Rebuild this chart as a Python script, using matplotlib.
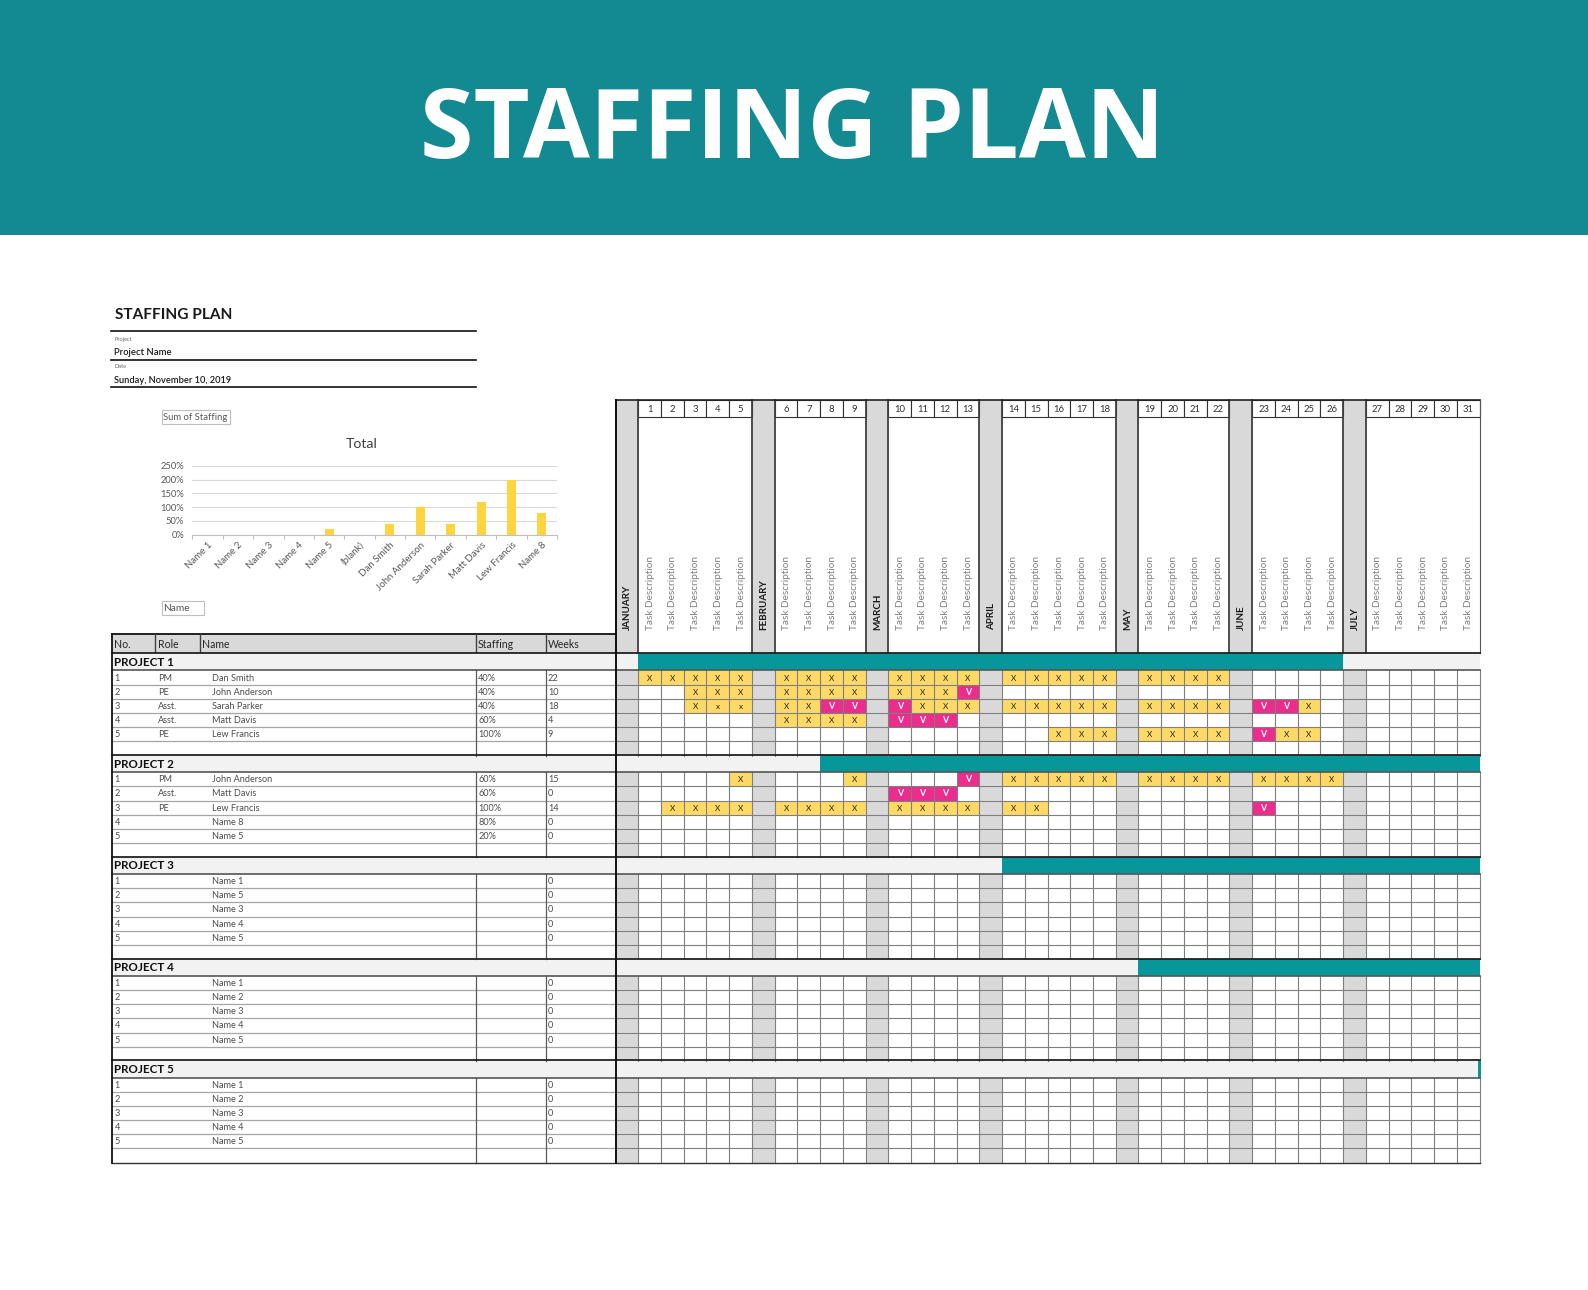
import matplotlib
matplotlib.use('Agg')
import matplotlib.pyplot as plt
from matplotlib.patches import Rectangle
import numpy as np

plt.rcParams['font.family'] = ['Lato', 'DejaVu Sans']

W, H, DPI = 1588, 1290, 100
S = 1588 / 1568.0          # layout units -> pixels
UW, UH = W / S, H / S      # figure size in layout units


def f(pt):
    return pt * S


# ---------------- data ----------------
title = "STAFFING PLAN"
sheet_title = "STAFFING PLAN"
project_caption = "Project"
project_label = "Project Name"
date_caption = "Date"
date_label = "Sunday, November 10, 2019"

chart_title = "Total"
chart_categories = ["Name 1", "Name 2", "Name 3", "Name 4", "Name 5", "(blank)",
                    "Dan Smith", "John Anderson", "Sarah Parker", "Matt Davis",
                    "Lew Francis", "Name 8"]
chart_values = [0, 0, 0, 0, 20, 0, 40, 100, 40, 120, 200, 80]   # percent
chart_yticks = [0, 50, 100, 150, 200, 250]

months = ["JANUARY", "FEBRUARY", "MARCH", "APRIL", "MAY", "JUNE", "JULY"]
weeks_per_month = [5, 4, 4, 5, 4, 4, 5]
task_label = "Task Description"

table_headers = ["No.", "Role", "Name", "Staffing", "Weeks"]
project_names = ["PROJECT 1", "PROJECT 2", "PROJECT 3", "PROJECT 4", "PROJECT 5"]
project_start_week = [1, 8, 14, 19, None]
project_end_week = [26, 31, 31, 31, None]

row_numbers = ["1", "2", "3", "4", "5"]

p1_roles = ["PM", "PE", "Asst.", "Asst.", "PE"]
p1_names = ["Dan Smith", "John Anderson", "Sarah Parker", "Matt Davis", "Lew Francis"]
p1_staffing = ["40%", "40%", "40%", "60%", "100%"]
p1_weeks = ["22", "10", "18", "4", "9"]
p1_marks = ["XXXXXXXXXXXXXXXXXXXXXX.........",
            "..XXXXXXXXXXV..................",
            "..XxxXXVVVXXXXXXXXXXXXVVX......",
            ".....XXXXVVV...................",
            "...............XXXXXXXVXX......"]

p2_roles = ["PM", "Asst.", "PE", "", ""]
p2_names = ["John Anderson", "Matt Davis", "Lew Francis", "Name 8", "Name 5"]
p2_staffing = ["60%", "60%", "100%", "80%", "20%"]
p2_weeks = ["15", "0", "14", "0", "0"]
p2_marks = ["....X...X...VXXXXXXXXXXXXX.....",
            ".........VVV...................",
            ".XXXXXXXXXXXXXX.......V........",
            "",
            ""]

p3_roles = ["", "", "", "", ""]
p3_names = ["Name 1", "Name 5", "Name 3", "Name 4", "Name 5"]
p3_staffing = ["", "", "", "", ""]
p3_weeks = ["0", "0", "0", "0", "0"]
p3_marks = ["", "", "", "", ""]

p4_roles = ["", "", "", "", ""]
p4_names = ["Name 1", "Name 2", "Name 3", "Name 4", "Name 5"]
p4_staffing = ["", "", "", "", ""]
p4_weeks = ["0", "0", "0", "0", "0"]
p4_marks = ["", "", "", "", ""]

p5_roles = ["", "", "", "", ""]
p5_names = ["Name 1", "Name 2", "Name 3", "Name 4", "Name 5"]
p5_staffing = ["", "", "", "", ""]
p5_weeks = ["0", "0", "0", "0", "0"]
p5_marks = ["", "", "", "", ""]

projects = [
    (p1_roles, p1_names, p1_staffing, p1_weeks, p1_marks),
    (p2_roles, p2_names, p2_staffing, p2_weeks, p2_marks),
    (p3_roles, p3_names, p3_staffing, p3_weeks, p3_marks),
    (p4_roles, p4_names, p4_staffing, p4_weeks, p4_marks),
    (p5_roles, p5_names, p5_staffing, p5_weeks, p5_marks),
]

# ---------------- style / layout ----------------
BANNER = '#138A92'
TEAL = '#07979A'
YELLOW = '#FFD966'
MAGENTA = '#EC2D8D'
MONTH_GREY = '#D9D9D9'
HDR_GREY = '#F2F2F2'
GRIDC = '#7F7F7F'
TXT = '#4D4D4D'

BANNER_H = 232
TBL_L = 111
COL_X = [113, 156, 209, 472, 541]
HDR_COL_X = [113, 156, 199, 472, 541]
TBL_DIV = [153, 197, 470, 539]
GX0 = 607.8
CW = 22.45
G_TOP = 395
NUM_BOT = 412
TH_TOP = 626
HDR_BOT = 645
PITCH = 100.5
PH = 17
RH = 14
NROWS = 6

# column layout
col_kind = []
col_label = []
wk = 0
for m, n in zip(months, weeks_per_month):
    col_kind.append('m'); col_label.append(m)
    for _ in range(n):
        wk += 1
        col_kind.append('w'); col_label.append(str(wk))
NCOL = len(col_kind)
GX1 = GX0 + NCOL * CW
week_col = [i for i, k in enumerate(col_kind) if k == 'w']
col_left = [GX0 + i * CW for i in range(NCOL + 1)]
nblocks = len(projects)
block_top = [HDR_BOT + b * PITCH for b in range(nblocks)]
BOTTOM = block_top[-1] + PH + NROWS * RH

fig = plt.figure(figsize=(W / DPI, H / DPI), dpi=DPI)
ax = fig.add_axes([0, 0, 1, 1])
ax.set_xlim(0, UW)
ax.set_ylim(UH, 0)
ax.axis('off')

# ---------------- banner ----------------
ax.add_patch(Rectangle((0, 0), UW, BANNER_H, fc=BANNER, ec='none'))
t = ax.text(782, 131, title, color='white', fontsize=70, fontweight='bold',
            ha='center', va='center', family=['Open Sans', 'DejaVu Sans'])
fig.canvas.draw()
bb = t.get_window_extent()
t.set_fontsize(70 * 735 * S / bb.width)

# ---------------- sheet header ----------------
ax.text(114, 311, sheet_title, fontsize=f(10.9), fontweight='bold', color='#1a1a1a', va='center')
for yy in [327, 355, 382]:
    ax.plot([110, 470], [yy, yy], color='#111111', lw=1.2)
ax.text(113, 335, project_caption, fontsize=f(4.0), color='#666666', va='center')
ax.text(113, 348, project_label, fontsize=f(6.8), fontweight='semibold', color='#1a1a1a', va='center')
ax.text(113, 362, date_caption, fontsize=f(4.0), color='#666666', va='center')
ax.text(113, 376, date_label, fontsize=f(6.6), fontweight='semibold', color='#1a1a1a', va='center')

# pivot buttons
ax.add_patch(Rectangle((160, 405), 67, 14, fc='white', ec='#BFBFBF', lw=0.8))
ax.text(161, 412.5, "Sum of Staffing", fontsize=f(6.8), color='#595959', va='center')
ax.add_patch(Rectangle((160, 593), 41, 14, fc='white', ec='#BFBFBF', lw=0.8))
ax.text(161, 600.5, "Name", fontsize=f(7.2), color='#595959', va='center')
ax.text(357, 438, chart_title, fontsize=f(10), color='#404040', ha='center', va='center')

# ---------------- chart ----------------
cax = fig.add_axes([190 / UW, 1 - 528 / UH, 360 / UW, 68 / UH])
xpos = np.arange(len(chart_categories))
cax.bar(xpos, np.array(chart_values) / 100.0, width=0.3, color='#FFD43F', zorder=2)
cax.set_xlim(-0.5, len(chart_categories) - 0.5)
cax.set_ylim(0, 2.5)
cax.set_yticks(np.array(chart_yticks) / 100.0)
cax.set_yticklabels([f"{v}%" for v in chart_yticks])
cax.yaxis.grid(True, color='#D9D9D9', lw=0.8, zorder=0)
cax.set_axisbelow(True)
for s in ['left', 'right', 'top']:
    cax.spines[s].set_visible(False)
cax.spines['bottom'].set_color('#BFBFBF')
cax.spines['bottom'].set_linewidth(0.8)
cax.tick_params(axis='y', length=0, labelsize=f(6.7), labelcolor='#595959', pad=6)
cax.set_xticks(xpos)
cax.set_xticklabels(chart_categories, rotation=45, ha='right', rotation_mode='anchor',
                    fontsize=f(6.9), color='#595959')
cax.tick_params(axis='x', which='major', length=0, pad=4)
cax.set_xticks(np.arange(-0.5, len(chart_categories), 1.0), minor=True)
cax.tick_params(axis='x', which='minor', length=3, color='#BFBFBF', width=0.8)
cax.patch.set_alpha(0)

# ---------------- left table header ----------------
ax.add_patch(Rectangle((TBL_L, TH_TOP), GX0 - TBL_L, HDR_BOT - TH_TOP, fc=MONTH_GREY, ec='none'))
ax.plot([TBL_L, GX0], [TH_TOP, TH_TOP], color='#111111', lw=1.3)
for xd in TBL_DIV:
    ax.plot([xd, xd], [TH_TOP, HDR_BOT], color='#404040', lw=1.0)
for xh, lab in zip(HDR_COL_X, table_headers):
    ax.text(xh, (TH_TOP + HDR_BOT) / 2 + 1, lab, fontsize=f(7.5), color='#262626', va='center')

# ---------------- grid header ----------------
for i, k in enumerate(col_kind):
    x0 = col_left[i]
    if k == 'm':
        ax.add_patch(Rectangle((x0, G_TOP), CW, BOTTOM - G_TOP, fc=MONTH_GREY, ec='none', zorder=1))
        ax.text(x0 + CW / 2 + 0.5, 622, col_label[i], rotation=90, fontsize=f(7.0), fontweight='bold',
                color='#1a1a1a', ha='center', va='bottom', zorder=5)
        for xe in (x0, x0 + CW):
            ax.plot([xe, xe], [G_TOP, HDR_BOT], color='#404040', lw=1.3, zorder=4)
    else:
        ax.add_patch(Rectangle((x0, G_TOP), CW, NUM_BOT - G_TOP, fc='white', ec='#333333',
                               lw=0.8, zorder=3))
        ax.text(x0 + CW / 2, (G_TOP + NUM_BOT) / 2 + 0.5, col_label[i], fontsize=f(6.8),
                color='#333333', ha='center', va='center', zorder=5)
        ax.text(x0 + CW / 2 + 0.5, 622, task_label, rotation=90, fontsize=f(7.1), color='#808080',
                ha='center', va='bottom', zorder=5)
ax.plot([GX0, GX1], [G_TOP, G_TOP], color='#222222', lw=1.2, zorder=4)
ax.plot([GX1, GX1], [G_TOP, HDR_BOT], color='#555555', lw=0.8, zorder=4)

# ---------------- project blocks ----------------
for b, (roles, names, staffing, weeks, marks) in enumerate(projects):
    top = block_top[b]
    dtop = top + PH
    bot = dtop + NROWS * RH
    # project header row
    ax.add_patch(Rectangle((TBL_L, top), GX1 - TBL_L, PH, fc=HDR_GREY, ec='none', zorder=2))
    sw, ew = project_start_week[b], project_end_week[b]
    if sw is not None:
        xa = col_left[week_col[sw - 1]]
        xb = col_left[week_col[ew - 1] + 1]
        ax.add_patch(Rectangle((xa, top), xb - xa, PH, fc=TEAL, ec='none', zorder=2.5))
    else:
        ax.add_patch(Rectangle((GX1 - 1.5, top), 2.5, PH, fc=TEAL, ec='none', zorder=2.5))
    ax.text(113, top + PH / 2 + 0.5, project_names[b], fontsize=f(8.3), fontweight='bold',
            color='#111111', va='center', zorder=5)

    # marks
    for r in range(len(names)):
        y0 = dtop + r * RH
        for w, ch in enumerate(marks[r].ljust(len(week_col), '.')):
            if ch == '.':
                continue
            x0 = col_left[week_col[w]]
            fc = MAGENTA if ch == 'V' else YELLOW
            ax.add_patch(Rectangle((x0, y0), CW, RH, fc=fc, ec='none', zorder=2))
            if ch == 'V':
                ax.text(x0 + CW / 2, y0 + RH / 2 + 0.5, ch, fontsize=f(6.3), fontweight='bold',
                        color='white', ha='center', va='center', zorder=5)
            else:
                ax.text(x0 + CW / 2, y0 + RH / 2 + 0.5, ch, fontsize=f(5.8),
                        color='#262626', ha='center', va='center', zorder=5)

    # left table text
    for r in range(len(names)):
        yc = dtop + r * RH + RH / 2 + 0.5
        vals = [row_numbers[r], roles[r], names[r], staffing[r], weeks[r]]
        for xt, v in zip(COL_X, vals):
            if v:
                ax.text(xt, yc, v, fontsize=f(6.5), color=TXT, va='center', zorder=5)

    # horizontal lines
    for r in range(1, NROWS):
        yy = dtop + r * RH
        ax.plot([TBL_L, GX0], [yy, yy], color='#A6A6A6', lw=0.9, zorder=3)
        ax.plot([GX0, GX1], [yy, yy], color=GRIDC, lw=0.8, zorder=3)
    # vertical lines in data rows
    for xd in TBL_DIV[2:]:
        ax.plot([xd, xd], [dtop, bot], color='#595959', lw=0.9, zorder=3)
    for i in range(1, NCOL + 1):
        ax.plot([col_left[i], col_left[i]], [dtop, bot], color=GRIDC, lw=0.8, zorder=3)
    # header borders
    ax.plot([TBL_L, GX1], [top, top], color='#222222', lw=1.3, zorder=4)
    ax.plot([TBL_L, GX1], [dtop, dtop], color='#555555', lw=1.2, zorder=4)

ax.plot([TBL_L, GX1], [BOTTOM, BOTTOM], color='#333333', lw=1.0, zorder=4)
ax.plot([TBL_L, TBL_L], [TH_TOP, BOTTOM], color='#111111', lw=1.3, zorder=4)
ax.plot([GX0, GX0], [G_TOP, BOTTOM], color='#111111', lw=1.4, zorder=4)

fig.savefig('out.png', dpi=DPI)
